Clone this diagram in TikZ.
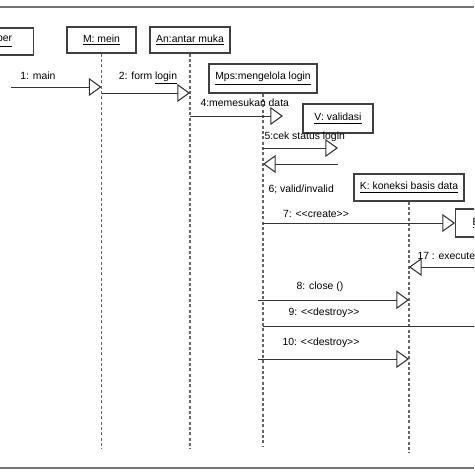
\documentclass[tikz,border=0pt]{standalone}
\usepackage{fontspec}
\setmainfont{Liberation Sans}[Ligatures=TeXOff]
\usetikzlibrary{arrows.meta}
\tikzset{every picture/.style={line width=0.75pt}}
\tikzset{
  obj/.style={draw=black!75, fill=white, line width=0.8pt, inner sep=0pt, font=\fontsize{7.8}{9}\selectfont, text=black},
  life/.style={draw=black!60, line width=0.9pt, dash pattern={on 2.4pt off 1.6pt}},
  msg/.style={draw=black!80, line width=0.7pt, -{Triangle[open, length=9.5pt, width=13.5pt, line width=0.8pt]}},
  plainmsg/.style={draw=black!80, line width=0.7pt},
  lbl/.style={inner sep=0.75pt, font=\fontsize{7.8}{9}\selectfont, text=black},
  frameline/.style={draw=black!55, line width=1.1pt}
}

\begin{document}
\begin{tikzpicture}[x=0.75pt,y=0.75pt,yscale=-1,xscale=1]
            \useasboundingbox (0,0) rectangle (474,474);
            \clip (0,0) rectangle (474,474);
            %Frame Lines
            \draw[frameline] (0,7) -- (474,7);
            \draw[frameline] (0,468) -- (474,468);
            % Objects
            \node[obj, anchor=east, minimum height=20.25pt, inner xsep=16pt] (user) at (34,41.5) {\underline{per}};
            \node[obj, minimum width=51.75pt, minimum height=19.5pt] (m) at (101.5,40) {\underline{M: mein}};
            \node[obj, minimum width=60pt, minimum height=19.5pt] (an) at (190,40) {\underline{An:antar muka}};
            \node[obj, minimum width=81pt, minimum height=21.75pt] (mps) at (263,78.5) {\underline{Mps:mengelola login}};
            \node[obj, minimum width=52.5pt, minimum height=21.75pt] (v) at (338,118.5) {\underline{V: validasi}};
            \node[obj, minimum width=82.5pt, minimum height=20.25pt] (k) at (409,187.5) {\underline{K: koneksi basis data}};
            \node[obj, anchor=west, minimum height=21pt, inner xsep=12.75pt] (e) at (455,223) {\underline{E}};
            %Lifelines
            \coordinate (mEnd) at (101.5,449);
            \coordinate (anEnd) at (190,449);
            \coordinate (mpsEnd) at (263,447);
            \coordinate (kEnd) at (409,453);
            \draw[life] (m.south) -- (mEnd);
            \draw[life] (an.south) -- (anEnd);
            \draw[life] (mps.south) -- (mpsEnd);
            \draw[life] (k.south) -- (kEnd);
            %Messages
            \coordinate (s1) at (11,87);
            \draw[msg] (s1) -- (s1 -| m);
            \coordinate (s2) at (0,93);
            \draw[msg] (s2 -| m) -- (s2 -| an);
            \coordinate (s4) at (0,116);
            \coordinate (t4) at (283,116);
            \draw[msg] (s4 -| an) -- (t4);
            \coordinate (s5) at (0,148);
            \draw[msg] (s5 -| mps) -- (s5 -| v);
            \coordinate (s6) at (0,164);
            \draw[msg] (s6 -| v) -- (s6 -| mps);
            \draw[msg] (mps |- e.west) -- (e.west);
            \coordinate (s17) at (480,267);
            \draw[msg] (s17) -- (s17 -| k);
            \coordinate (s8) at (258,300);
            \draw[msg] (s8) -- (s8 -| k);
            \coordinate (s9) at (480,326);
            \draw[plainmsg] (s9 -| mps) -- (s9);
            \coordinate (s10) at (258,359);
            \draw[msg] (s10) -- (s10 -| k);
            % Text Nodes
            \node[lbl] (l1) at (38,76) {1: main};
            \node[lbl] (l2) at (148,78) {2: form \underline{login}};
            \node[lbl, anchor=west] (l4) at (199,103) {4:memesukan data};
            \node[lbl, anchor=west] (l5) at (263,137) {5:cek status login};
            \node[lbl, anchor=west] (l6) at (267,189) {6; valid/invalid};
            \node[lbl] (l7) at (316,214) {7: <<create>>};
            \node[lbl, anchor=west] (l17) at (416,256) {17 : execute};
            \node[lbl] (l8) at (320,287) {8: close ()};
            \node[lbl] (l9) at (324,313) {9: <<destroy>>};
            \node[lbl] (l10) at (321,343) {10: <<destroy>>};
        \end{tikzpicture}
\end{document}
